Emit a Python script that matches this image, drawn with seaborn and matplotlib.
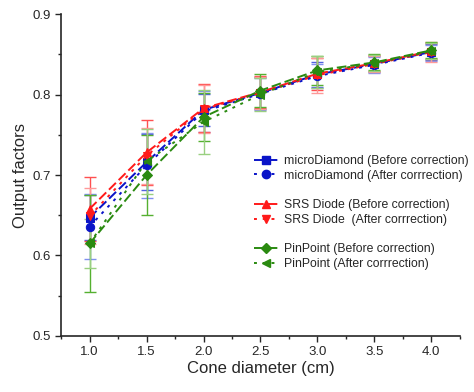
import matplotlib
matplotlib.use("Agg")
import matplotlib.pyplot as plt
from matplotlib.lines import Line2D
import seaborn as sns
import pandas as pd

# cone diameters (cm)
cone = [1.0, 1.5, 2.0, 2.5, 3.0, 3.5, 4.0]

# output factors
md_before = [0.647, 0.716, 0.781, 0.802, 0.825, 0.838, 0.853]
md_after = [0.636, 0.712, 0.779, 0.801, 0.823, 0.837, 0.852]
srs_before = [0.658, 0.728, 0.783, 0.803, 0.826, 0.839, 0.854]
srs_after = [0.649, 0.724, 0.782, 0.802, 0.824, 0.838, 0.853]
pp_before = [0.615, 0.700, 0.772, 0.805, 0.830, 0.840, 0.855]
pp_after = [0.615, 0.717, 0.766, 0.800, 0.828, 0.839, 0.854]

# uncertainties
md_before_err = [0.028, 0.035, 0.020, 0.020, 0.015, 0.010, 0.010]
md_after_err = [0.040, 0.040, 0.025, 0.020, 0.015, 0.010, 0.010]
srs_before_err = [0.040, 0.040, 0.030, 0.020, 0.020, 0.010, 0.010]
srs_after_err = [0.035, 0.035, 0.030, 0.020, 0.022, 0.010, 0.012]
pp_before_err = [0.060, 0.050, 0.030, 0.020, 0.018, 0.010, 0.010]
pp_after_err = [0.030, 0.040, 0.040, 0.020, 0.020, 0.010, 0.010]

labels = ["microDiamond (Before correction)", "microDiamond (After corrrection)",
          "SRS Diode (Before correction)", "SRS Diode  (After corrrection)",
          "PinPoint (Before correction)", "PinPoint (After corrrection)"]

BLUE = "#0a14c8"
RED = "#ff1a1a"
GREEN = "#2a8a10"
series = [
    (md_before, md_before_err, BLUE, "#5060e0", "s", (5, 2)),
    (md_after, md_after_err, BLUE, "#8090f0", "o", (1.5, 3)),
    (srs_before, srs_before_err, RED, "#ff5050", "^", (5, 2)),
    (srs_after, srs_after_err, RED, "#ff9999", "v", (1.5, 3)),
    (pp_before, pp_before_err, GREEN, "#55b030", "D", (5, 2)),
    (pp_after, pp_after_err, GREEN, "#99d080", "<", (1.5, 3)),
]

sns.set_style("ticks")
plt.rcParams["font.family"] = ["Liberation Sans", "DejaVu Sans"]

fig = plt.figure(figsize=(4.74, 3.92), dpi=100)
ax = fig.add_axes([0.129, 0.143, 0.841, 0.821])

handles = []
for (vals, err, col, ecol, mk, dash), lab in zip(series, labels):
    ax.errorbar(cone, vals, yerr=err, fmt="none", ecolor=ecol, elinewidth=1,
                capsize=4, capthick=1, zorder=2)
    df = pd.DataFrame({"x": cone, "y": vals})
    sns.lineplot(data=df, x="x", y="y", ax=ax, color=col, marker=mk,
                 markersize=6 if mk != "D" else 5, markeredgecolor=col,
                 linewidth=1.4, dashes=dash, zorder=3)
    handles.append(Line2D([], [], color=col, marker=mk, markersize=6 if mk != "D" else 5,
                          linewidth=1.4, dashes=dash))

blank = Line2D([], [], color="none")
leg_handles = handles[0:2] + [blank] + handles[2:4] + [blank] + handles[4:6]
leg_labels = labels[0:2] + [""] + labels[2:4] + [""] + labels[4:6]
ax.legend(leg_handles, leg_labels, loc="lower right", bbox_to_anchor=(1.035, 0.19),
          frameon=False, fontsize=8.8, handlelength=2.0, handletextpad=0.5,
          labelspacing=0.22, borderaxespad=0)

ax.set_xlim(0.75, 4.25)
ax.set_ylim(0.5, 0.9)
ax.set_xticks([1.0, 1.5, 2.0, 2.5, 3.0, 3.5, 4.0])
ax.set_xticks([0.75, 1.25, 1.75, 2.25, 2.75, 3.25, 3.75, 4.25], minor=True)
ax.set_yticks([0.5, 0.6, 0.7, 0.8, 0.9])
ax.set_yticks([0.55, 0.65, 0.75, 0.85], minor=True)
ax.tick_params(axis="both", which="major", labelsize=9.5, length=4, width=1, direction="out")
ax.tick_params(axis="both", which="minor", length=2.5, width=1, direction="out")
ax.set_xlabel("Cone diameter (cm)", fontsize=12, labelpad=2)
ax.set_ylabel("Output factors", fontsize=12, labelpad=3)
for s in ["left", "bottom"]:
    ax.spines[s].set_linewidth(1.2)
sns.despine(ax=ax)

fig.savefig("out.png", dpi=100)
